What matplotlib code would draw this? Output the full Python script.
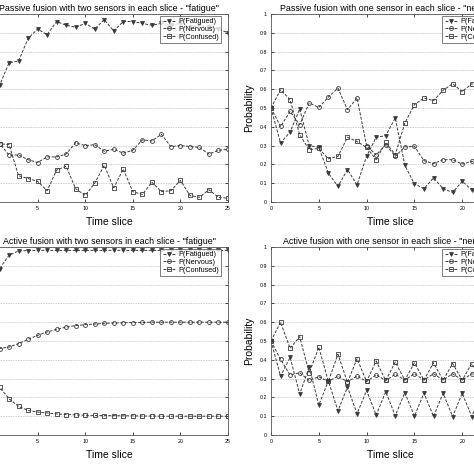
import matplotlib
matplotlib.use("Agg")
import matplotlib.pyplot as plt

plt.rcParams['font.family'] = ['Liberation Sans', 'DejaVu Sans']

## time axis
time_slices = list(range(26))

## (a) top: passive fusion, two sensors
tl_fatigued = [0.50, 0.62, 0.74, 0.75, 0.87, 0.92, 0.89, 0.96, 0.94, 0.93, 0.95, 0.92, 0.97,
               0.91, 0.96, 0.96, 0.95, 0.94, 0.95, 0.94, 0.95, 0.93, 0.94, 0.93, 0.92, 0.90]
tl_nervous = [0.50, 0.31, 0.25, 0.25, 0.225, 0.21, 0.24, 0.24, 0.255, 0.315, 0.30, 0.305, 0.27,
              0.28, 0.26, 0.275, 0.33, 0.325, 0.36, 0.295, 0.30, 0.295, 0.29, 0.255, 0.275, 0.28]
tl_confused = [0.50, 0.31, 0.305, 0.14, 0.125, 0.11, 0.06, 0.17, 0.19, 0.07, 0.035, 0.10, 0.195,
               0.075, 0.175, 0.055, 0.04, 0.105, 0.055, 0.06, 0.115, 0.035, 0.025, 0.065, 0.025, 0.02]

## (b) top: passive fusion, one sensor
tr_fatigued = [0.50, 0.314, 0.372, 0.495, 0.30, 0.29, 0.154, 0.083, 0.172, 0.092, 0.243, 0.344, 0.353,
               0.447, 0.195, 0.097, 0.071, 0.128, 0.071, 0.051, 0.11, 0.065, 0.09, 0.06, 0.08, 0.07]
tr_nervous = [0.50, 0.402, 0.482, 0.411, 0.527, 0.503, 0.558, 0.606, 0.491, 0.553, 0.30, 0.25, 0.305,
              0.243, 0.293, 0.296, 0.22, 0.204, 0.225, 0.225, 0.202, 0.216, 0.21, 0.22, 0.20, 0.21]
tr_confused = [0.50, 0.597, 0.544, 0.358, 0.278, 0.285, 0.23, 0.243, 0.344, 0.322, 0.29, 0.225, 0.317,
               0.252, 0.42, 0.518, 0.553, 0.539, 0.594, 0.629, 0.587, 0.629, 0.61, 0.64, 0.62, 0.63]

## (a) bottom: active fusion, two sensors
bl_fatigued = [0.50, 0.885, 0.956, 0.979, 0.981, 0.982, 0.982, 0.982, 0.982, 0.982, 0.982, 0.982, 0.982,
               0.982, 0.982, 0.982, 0.982, 0.982, 0.982, 0.982, 0.982, 0.982, 0.982, 0.982, 0.982, 0.982]
bl_nervous = [0.50, 0.46, 0.468, 0.486, 0.509, 0.53, 0.548, 0.562, 0.574, 0.582, 0.587, 0.59, 0.594,
              0.596, 0.597, 0.598, 0.599, 0.60, 0.60, 0.60, 0.60, 0.60, 0.60, 0.60, 0.60, 0.60]
bl_confused = [0.50, 0.255, 0.193, 0.152, 0.131, 0.122, 0.117, 0.112, 0.109, 0.107, 0.105, 0.104, 0.103,
               0.103, 0.102, 0.102, 0.101, 0.101, 0.10, 0.10, 0.10, 0.10, 0.10, 0.10, 0.10, 0.10]

## (b) bottom: active fusion, one sensor
br_fatigued = [0.50, 0.313, 0.413, 0.218, 0.363, 0.159, 0.288, 0.129, 0.255, 0.113, 0.237, 0.106, 0.23,
               0.103, 0.225, 0.10, 0.223, 0.099, 0.222, 0.098, 0.222, 0.098, 0.222, 0.098, 0.222, 0.098]
br_nervous = [0.50, 0.402, 0.319, 0.331, 0.29, 0.31, 0.285, 0.313, 0.283, 0.313, 0.285, 0.32, 0.29,
              0.323, 0.292, 0.326, 0.292, 0.326, 0.292, 0.326, 0.292, 0.326, 0.292, 0.326, 0.292, 0.326]
br_confused = [0.50, 0.60, 0.461, 0.523, 0.33, 0.467, 0.285, 0.43, 0.28, 0.406, 0.285, 0.393, 0.29,
               0.388, 0.292, 0.384, 0.292, 0.384, 0.292, 0.38, 0.292, 0.38, 0.292, 0.38, 0.292, 0.38]

titles = ['Passive fusion with two sensors in each slice - "fatigue"',
          'Passive fusion with one sensor in each slice - "nervous"',
          'Active fusion with two sensors in each slice - "fatigue"',
          'Active fusion with one sensor in each slice - "nervous"']
series_labels = ["P(Fatigued)", "P(Nervous)", "P(Confused)"]
panel_labels = ["(a)", "(b)"]

W = 474.0
fig = plt.figure(figsize=(4.74, 4.74), dpi=100)

## axes boxes in pixels: left, top, width, height (some hang off the canvas, as in the crop)
boxes = [(-10, 14, 238, 188), (271, 14, 239, 188),
         (-10, 247, 238, 188), (271, 247, 239, 188)]
data = [(tl_fatigued, tl_nervous, tl_confused), (tr_fatigued, tr_nervous, tr_confused),
        (bl_fatigued, bl_nervous, bl_confused), (br_fatigued, br_nervous, br_confused)]

line_col = "#3a3a3a"
markers = [("v", line_col), ("o", "none"), ("s", "none")]

for i, (box, ys) in enumerate(zip(boxes, data)):
    l, t, w, h = box
    ax = fig.add_axes([l / W, (W - t - h) / W, w / W, h / W])
    for y, lab, (mk, mfc) in zip(ys, series_labels, markers):
        ax.plot(time_slices, y, linestyle=(0, (3, 1.6)), color=line_col, linewidth=0.7,
                marker=mk, markersize=2.8, markerfacecolor=mfc, markeredgecolor=line_col,
                markeredgewidth=0.6, label=lab)
    ax.set_xlim(0, 25)
    ax.set_ylim(0, 1)
    ax.set_xticks([0, 5, 10, 15, 20, 25])
    ax.set_yticks([k / 10 for k in range(11)])
    ax.set_yticklabels(["0", "0.1", "0.2", "0.3", "0.4", "0.5", "0.6", "0.7", "0.8", "0.9", "1"])
    ax.grid(True, axis="y", color="#bdbdbd", linestyle=(0, (1, 1)), linewidth=0.6)
    ax.tick_params(direction="in", top=True, right=True, labelsize=3.8, length=2, width=0.5, pad=3)
    for sp in ax.spines.values():
        sp.set_linewidth(0.6)
        sp.set_color("#555555")
    ax.set_title(titles[i], fontsize=6.4, pad=2.5)
    ax.set_xlabel("Time slice", fontsize=7.5, labelpad=4)
    ax.set_ylabel("Probability", fontsize=7.5, labelpad=4)
    leg = ax.legend(loc="upper right", bbox_to_anchor=(0.972, 0.99), fontsize=5.2, frameon=True,
                    fancybox=False, edgecolor="#444444", borderpad=0.3, labelspacing=0.1,
                    handlelength=1.8, handletextpad=0.4, borderaxespad=0.0)
    leg.get_frame().set_linewidth(0.6)
    if i >= 2:
        ax.text(0.5, -0.25, panel_labels[i - 2], transform=ax.transAxes, ha="center", va="center",
                fontsize=8, family="Liberation Serif")

fig.savefig("out.png", dpi=100)
